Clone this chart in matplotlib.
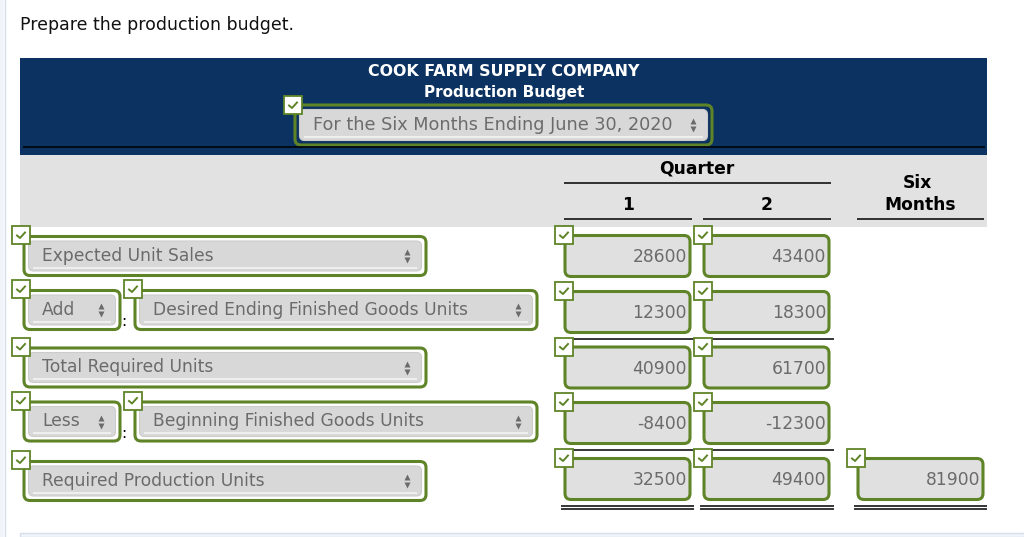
import matplotlib
matplotlib.use("Agg")
import matplotlib.pyplot as plt
from matplotlib.patches import FancyBboxPatch, Rectangle

plt.rcParams['font.family'] = ['DejaVu Sans']

prompt = "Prepare the production budget."
company = "COOK FARM SUPPLY COMPANY"
report = "Production Budget"
period = "For the Six Months Ending June 30, 2020"
row_labels = ["Expected Unit Sales", "Desired Ending Finished Goods Units",
              "Total Required Units", "Beginning Finished Goods Units",
              "Required Production Units"]
row_prefix = [None, "Add", None, "Less", None]
q1 = [28600, 12300, 40900, -8400, 32500]
q2 = [43400, 18300, 61700, -12300, 49400]
six_months = [None, None, None, None, 81900]

GREEN = "#5f8427"; NAVY = "#0b3260"; HEAD = "#e2e2e2"; FIELD = "#e0e0e0"
GREY = "#6b6b6b"; SELECT = "#d8d8d8"
FS = 12.3

fig = plt.figure(figsize=(10.24, 5.37), dpi=100, facecolor="white")
ax = fig.add_axes([0, 0, 1, 1])
ax.set_xlim(0, 1024); ax.set_ylim(537, 0); ax.axis("off")

def rbox(x0, y0, x1, y1, fc, ec, lw, r=5, z=2):
    ax.add_patch(FancyBboxPatch((x0 + r, y0 + r), x1 - x0 - 2*r, y1 - y0 - 2*r,
                 boxstyle=f"round,pad={r},rounding_size={r}", fc=fc, ec=ec, lw=lw, zorder=z))

def check(x, y):
    ax.add_patch(Rectangle((x, y), 18, 18, fc="white", ec=GREEN, lw=1.3, zorder=6))
    ax.plot([x+5, x+8, x+13], [y+9.5, y+12, y+6.5], color=GREEN, lw=1.4, zorder=7)

def hline(x0, x1, y, lw=1.1):
    ax.plot([x0, x1], [y, y], color="black", lw=lw, zorder=3, solid_capstyle="butt")

def select(x0, x1, yc, h, label, fs=FS, inner_fc=None):
    rbox(x0, yc-h/2, x1, yc+h/2, inner_fc or "white", GREEN, 2.2, r=6, z=2)
    rbox(x0+4.5, yc-h/2+4.5, x1-4.5, yc+h/2-4.5, SELECT, "#cccccc", 0.8, r=5, z=3)
    ax.add_patch(Rectangle((x0+9, yc+h/2-9), x1-x0-18, 2, fc="#eeeeee", ec="none", zorder=3))
    ax.text(x0+18, yc, label, color=GREY, fontsize=fs, va="center", ha="left", zorder=5)
    xa = x1 - 19
    ax.plot([xa], [yc-4], marker="^", ms=5, color=GREY, mec="none", zorder=5)
    ax.plot([xa], [yc+4], marker="v", ms=5, color=GREY, mec="none", zorder=5)

def field(x0, x1, yc, val):
    rbox(x0, yc-20.5, x1, yc+20.5, FIELD, GREEN, 2.2, r=6, z=2)
    ax.text(x1-3, yc+1, str(val), color=GREY, fontsize=FS, va="center", ha="right", zorder=5)

# page furniture
ax.add_patch(Rectangle((0, 0), 4, 537, fc="#f1f5fb", ec="none", zorder=0))
ax.plot([4.5, 4.5], [0, 537], color="#d5deea", lw=1, zorder=1)
ax.add_patch(Rectangle((20, 533), 1004, 4, fc="#f1f5fb", ec="#d5deea", lw=1, zorder=1))

ax.text(20, 25, prompt, fontsize=12.5, va="center", ha="left", color="#111111")

# header bands
ax.add_patch(Rectangle((20, 58), 967, 97, fc=NAVY, ec="none", zorder=1))
ax.add_patch(Rectangle((20, 155), 967, 72, fc=HEAD, ec="none", zorder=1))
ax.text(504, 71.5, company, color="white", fontsize=11.4, fontweight="bold", ha="center", va="center", zorder=5)
ax.text(504, 92, report, color="white", fontsize=11.0, fontweight="bold", ha="center", va="center", zorder=5)
hline(23, 985, 146.5)
select(295, 712, 125, 40, period, fs=12.7, inner_fc=NAVY)
check(284, 96)

ax.text(697, 169, "Quarter", fontsize=FS, fontweight="bold", ha="center", va="center", color="black")
hline(564, 831, 183)
ax.text(628, 205, "1", fontsize=FS, fontweight="bold", ha="center", va="center", color="black")
ax.text(767, 205, "2", fontsize=FS, fontweight="bold", ha="center", va="center", color="black")
hline(564, 692, 218.5); hline(703, 831, 218.5)
ax.text(917.5, 183, "Six", fontsize=FS, fontweight="bold", ha="center", va="center", color="black")
ax.text(920.5, 205, "Months", fontsize=FS, fontweight="bold", ha="center", va="center", color="black")
hline(857, 984, 218.5)

# rows
row_y = [256, 310, 367.5, 421.5, 481]
field_y = [256, 312, 367.5, 423, 479]
for i, y in enumerate(row_y):
    if row_prefix[i]:
        select(24, 120, y, 39, row_prefix[i])
        check(12, y-30)
        select(135, 537, y, 39, row_labels[i])
        check(124, y-30)
        ax.text(124, y+12, ":", fontsize=11, ha="center", va="center", color="black", zorder=5)
    else:
        select(24, 426, y, 39, row_labels[i])
        check(12, y-30)
    fy = field_y[i]
    field(565, 690, fy, q1[i]); check(555, fy-30)
    field(704, 829, fy, q2[i]); check(694, fy-30)
    if six_months[i] is not None:
        field(858, 983, fy, six_months[i]); check(847, fy-30)

# subtotal rules
hline(561, 694, 339); hline(700, 834, 339)
hline(561, 694, 449.5); hline(700, 834, 449.5)
for a, b in [(561, 694), (700, 834), (854, 987)]:
    hline(a, b, 506); hline(a, b, 509)

fig.savefig("out.png", dpi=100)
